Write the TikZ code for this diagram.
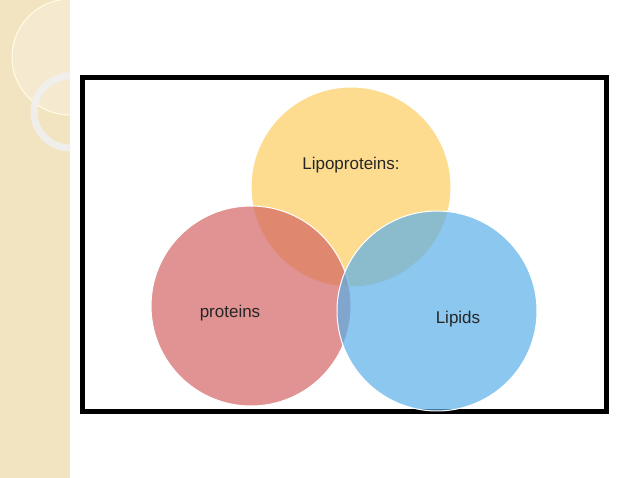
\documentclass[tikz,border=0pt]{standalone}
\usepackage{fontspec}
\setmainfont{Liberation Sans}
\definecolor{tan}{RGB}{242,228,192}
\definecolor{cy}{RGB}{252,205,95}
\definecolor{cr}{RGB}{212,100,100}
\definecolor{cb}{RGB}{90,175,232}
\tikzset{venn/.style={circle,minimum size=200pt,inner sep=0pt,fill opacity=0.7,draw=white,line width=1pt},
 lbl/.style={font=\fontsize{17pt}{20pt}\selectfont,text=black!85}}
\begin{document}
\begin{tikzpicture}[x=1pt,y=-1pt]
\useasboundingbox (0,0) rectangle (638,478);
\fill[tan] (0,0) rectangle (70,478);
\begin{scope}
\clip (0,0) rectangle (70,478);
\fill[white,opacity=0.25] (70,57) circle (58);
\draw[white!90!yellow,line width=1pt] (70,57) circle (58);
\draw[white!88!gray,line width=7pt,opacity=0.9] (70,112) circle (36);
\end{scope}
\draw[line width=5pt] (82,78) rectangle (606,412);
\node[venn,fill=cy] (y) at (351,187) {};
\node[venn,fill=cr] (r) at (251,306) {};
\node[venn,fill=cb] (b) at (437,311) {};
\node[lbl] (ty) at (351,165) {Lipoproteins:};
\node[lbl] (tr) at (230,313) {proteins};
\node[lbl] (tb) at (458,319) {Lipids};
\end{tikzpicture}
\end{document}
